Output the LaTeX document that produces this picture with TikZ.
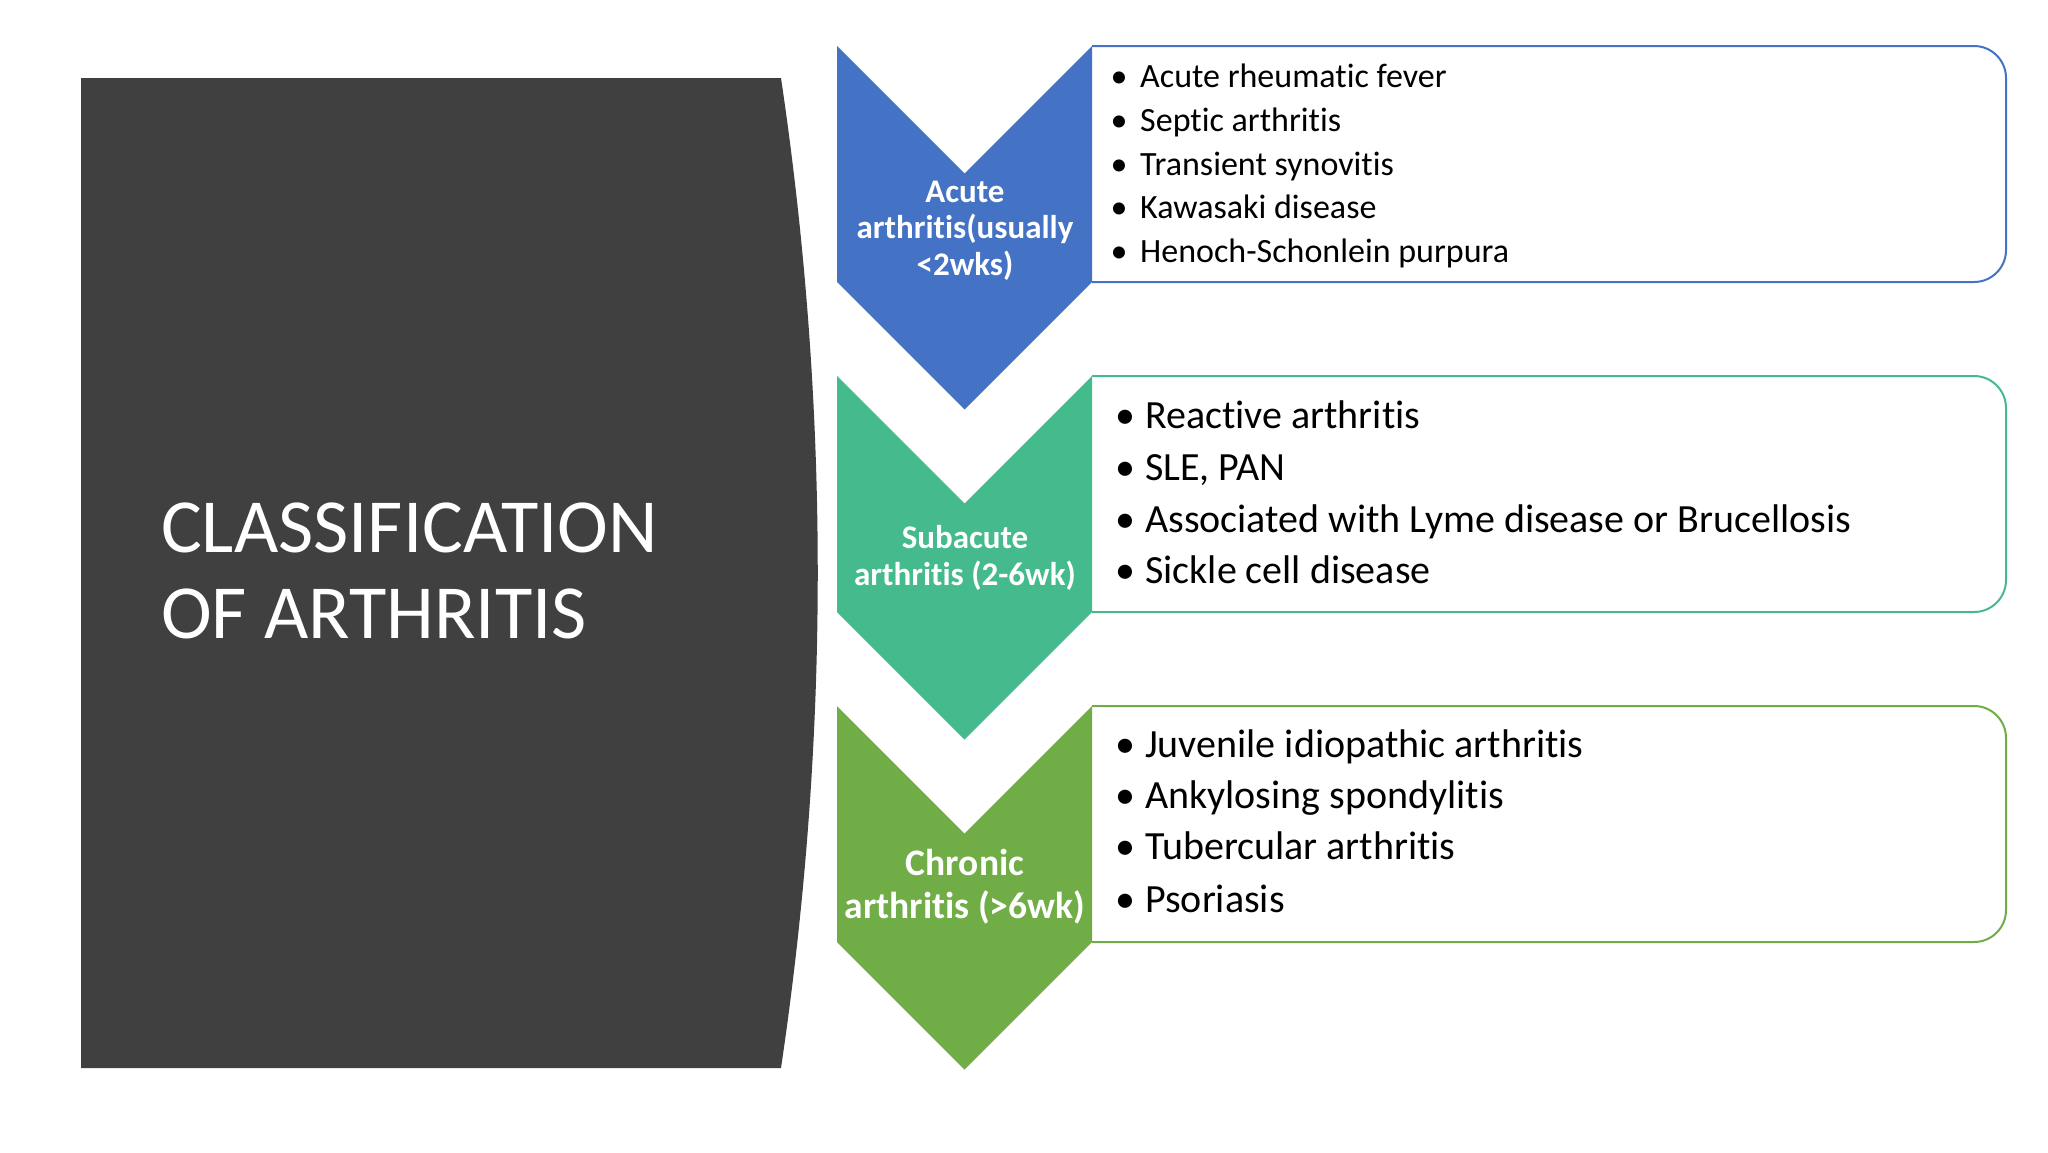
\documentclass[tikz,border=0pt]{standalone}
\usepackage{fontspec}
\setmainfont[Ligatures=NoCommon]{Carlito}
\definecolor{panelgray}{HTML}{404040}
\definecolor{cblue}{HTML}{4472C4}
\definecolor{cteal}{HTML}{45BB8D}
\definecolor{cgreen}{HTML}{70AD47}
\tikzset{
  titletext/.style={anchor=base west, inner sep=0pt, text=white, font=\fontsize{76.5}{86}\selectfont},
  itemtext/.style={anchor=base west, inner sep=0pt, text=black},
  bul/.style={anchor=base, inner sep=0pt, text=black},
  chevtext/.style={anchor=base, inner sep=0pt, text=white},
  listbox/.style={line width=2pt, fill=white},
}
\begin{document}
\begin{tikzpicture}[x=1pt,y=-1pt]
\useasboundingbox[fill=white] (0,0) rectangle (2048,1152);
% dark panel
\fill[panelgray] (81,78) -- (781,78) .. controls (830,408) and (830,738) .. (781,1068) -- (81,1068) -- cycle;
\node[titletext] (title1) at (161,552) {CLASSIFICATION};
\node[titletext] (title2) at (161,638) {OF ARTHRITIS};
% boxes and chevrons
\foreach \T/\col [count=\k] in {46/cblue, 376/cteal, 706/cgreen}{
  \pgfmathsetmacro{\B}{\T+236}
  \draw[listbox, draw=\col] (1092,\T) -- (1974,\T) .. controls (1991.7,\T) and (2006,\T+14.3) .. (2006,\T+32)
     -- (2006,\B-32) .. controls (2006,\B-14.3) and (1991.7,\B) .. (1974,\B) -- (1092,\B);
  \fill[\col] (837,\T) -- (964.5,\T+127.5) -- (1092,\T) -- (1092,\B) -- (964.5,\B+127.5) -- (837,\B) -- cycle;
}
% chevron labels
\begin{scope}[every node/.style={chevtext, font=\bfseries\fontsize{33}{38}\selectfont}]
\node (c1a) at (965,202) {Acute};
\node (c1b) at (965,238) {arthritis(usually};
\node (c1c) at (965,275) {<2wks)};
\node (c2a) at (965,548) {Subacute};
\node (c2b) at (965,585) {arthritis (2-6wk)};
\end{scope}
\begin{scope}[every node/.style={chevtext, font=\bfseries\fontsize{37.5}{43}\selectfont}]
\node (c3a) at (965,875) {Chronic};
\node (c3b) at (965,918) {arthritis (>6wk)};
\end{scope}
% box 1 items
\begin{scope}[font=\fontsize{34}{40}\selectfont]
\foreach \y/\txt [count=\i] in {87/Acute rheumatic fever, 131/Septic arthritis, 175/Transient synovitis, 218/Kawasaki disease, 262/Henoch-Schonlein purpura}{
  \node[bul] (ab\i) at (1119,\y) {•};
  \node[itemtext] (a\i) at (1140,\y) {\txt};
}
\end{scope}
\begin{scope}[font=\fontsize{40}{47}\selectfont]
\foreach \y/\txt [count=\i] in {428/Reactive arthritis, 480/{SLE, PAN}, 532/Associated with Lyme disease or Brucellosis, 583/Sickle cell disease}{
  \node[bul] (bb\i) at (1125,\y) {•};
  \node[itemtext] (b\i) at (1145,\y) {\txt};
}
\foreach \y/\txt [count=\i] in {757/Juvenile idiopathic arthritis, 808/Ankylosing spondylitis, 859/Tubercular arthritis, 912/Psoriasis}{
  \node[bul] (cb\i) at (1125,\y) {•};
  \node[itemtext] (c\i) at (1145,\y) {\txt};
}
\end{scope}
\end{tikzpicture}
\end{document}
